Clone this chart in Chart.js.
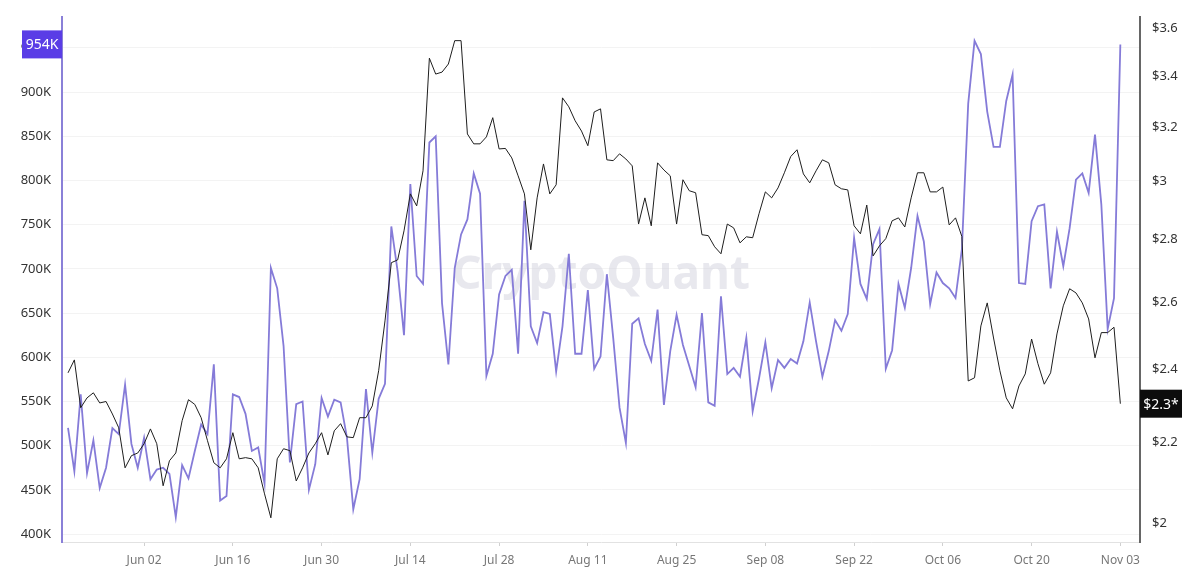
<!DOCTYPE html>
<html>
<head>
<meta charset="utf-8">
<script src="https://cdn.jsdelivr.net/npm/chart.js@4.4.1/dist/chart.umd.min.js"></script>
<style>
html,body{margin:0;padding:0;background:#fff;}
#wrap{width:1200px;height:572px;}
</style>
</head>
<body>
<div id="wrap"><canvas id="c" width="1200" height="572"></canvas></div>
<script>
// ---- data ----
const startDate = '2025-05-21';
const tickLabels = ['Jun 02','Jun 16','Jun 30','Jul 14','Jul 28','Aug 11','Aug 25','Sep 08','Sep 22','Oct 06','Oct 20','Nov 03'];
const leftTicks = [400,450,500,550,600,650,700,750,800,850,900,950];
const rightTicks = [2,2.2,2.4,2.6,2.8,3,3.2,3.4,3.6];

// daily volume (thousands)
const volume = [
520,471,558,469,506,452,475,520,513,569,502,475,509,462,473,475,468,419,478,463,494,524,513,592,438,443,558,555,536,
494,498,457,701,678,613,481,547,550,450,479,554,533,552,549,509,428,462,564,492,553,570,748,697,625,796,692,683,
843,850,661,592,701,739,756,808,785,579,604,671,692,699,604,777,635,616,651,649,584,635,717,604,604,676,587,601,694,
622,543,503,638,644,615,596,654,546,607,648,614,590,566,650,549,545,669,581,588,578,622,539,576,617,565,597,588,598,
593,618,662,618,578,607,642,630,649,735,683,666,728,745,587,608,683,656,701,760,731,660,696,684,678,667,722,
887,958,943,878,838,838,890,920,684,683,754,771,773,678,742,703,746,801,808,786,852,773,632,667,954
];
// daily price (USD)
const price = [
2.39,2.427,2.293,2.32,2.334,2.306,2.31,2.276,2.239,2.135,2.166,2.173,2.197,2.236,2.197,2.09,2.153,2.173,2.258,2.315,2.302,2.266,2.205,2.148,2.135,2.158,2.226,2.158,2.161,
2.158,2.135,2.07,2.012,2.158,2.184,2.179,2.102,2.135,2.173,2.197,2.226,2.168,2.231,2.25,2.215,2.213,2.266,2.266,2.298,2.396,2.542,2.724,2.733,2.829,2.956,2.914,3.038,
3.473,3.408,3.416,3.449,3.546,3.546,3.174,3.137,3.137,3.163,3.236,3.118,3.12,3.085,3.02,2.956,2.766,2.942,3.063,2.956,2.988,3.313,3.278,3.224,3.185,3.13,3.258,3.27,3.078,
3.075,3.1,3.081,3.056,2.852,2.942,2.846,3.067,3.041,3.02,2.852,3.006,2.967,2.96,2.816,2.813,2.776,2.753,2.852,2.839,2.789,2.809,2.806,2.887,2.963,2.942,2.977,3.031,3.09,
3.115,3.027,2.995,3.038,3.078,3.067,2.988,2.974,2.97,2.846,2.819,2.917,2.746,2.779,2.803,2.863,2.873,2.842,2.942,3.031,3.031,2.963,2.963,2.98,2.849,2.873,2.81,
2.367,2.376,2.527,2.597,2.491,2.396,2.32,2.29,2.353,2.387,2.488,2.416,2.358,2.39,2.503,2.588,2.641,2.628,2.597,2.548,2.433,2.507,2.507,2.523,2.304
];

// category labels (one per day)
const MONTHS = ['Jan','Feb','Mar','Apr','May','Jun','Jul','Aug','Sep','Oct','Nov','Dec'];
const dates = volume.map((_, i) => {
  const d = new Date(startDate + 'T00:00:00Z');
  d.setUTCDate(d.getUTCDate() + i);
  return MONTHS[d.getUTCMonth()] + ' ' + String(d.getUTCDate()).padStart(2,'0');
});
const tickIdx = tickLabels.map(l => dates.indexOf(l)).filter(i => i >= 0);

const volPts = volume.map((v, i) => ({x: i, y: v}));
const pricePts = price.map((v, i) => ({x: i, y: v}));

const FONT = '"Noto Sans", "Open Sans", sans-serif';

function noPad(s) { s.paddingTop = 0; s.paddingBottom = 0; s.paddingLeft = 0; s.paddingRight = 0; }

const overlay = {
  id: 'overlay',
  beforeDatasetsDraw(chart) {
    const ctx = chart.ctx;
    ctx.save();
    ctx.font = 'bold 46px ' + FONT;
    ctx.fillStyle = 'rgba(210,210,222,0.5)';
    ctx.textAlign = 'center';
    ctx.textBaseline = 'alphabetic';
    ctx.fillText('CryptoQuant', 601, 289);
    ctx.restore();
  },
  afterDraw(chart) {
    const ctx = chart.ctx;
    const yL = chart.scales.y, yR = chart.scales.y1;
    ctx.save();
    ctx.font = '14px ' + FONT;
    ctx.textAlign = 'center';
    ctx.textBaseline = 'middle';
    // last volume label
    const lv = volume[volume.length - 1];
    const py = yL.getPixelForValue(lv);
    ctx.fillStyle = '#5a3de6';
    ctx.fillRect(22, py - 14, 40, 28);
    ctx.fillStyle = '#fff';
    ctx.fillText(lv + 'K', 42, py + 1);
    // last price label
    const lp = price[price.length - 1];
    const pp = yR.getPixelForValue(lp);
    ctx.fillStyle = '#0d0d0d';
    ctx.fillRect(1140, pp - 14, 42, 28);
    ctx.fillStyle = '#fff';
    ctx.fillText('$' + lp.toFixed(1) + '*', 1161, pp + 1);
    ctx.restore();
  }
};

new Chart(document.getElementById('c'), {
  type: 'line',
  data: {
    datasets: [
      {
        label: 'Price',
        data: pricePts,
        yAxisID: 'y1',
        borderColor: '#1e1e1e',
        borderWidth: 1,
        pointRadius: 0,
        tension: 0,
        fill: false
      },
      {
        label: 'Volume',
        data: volPts,
        yAxisID: 'y',
        borderColor: '#857bd8',
        borderWidth: 1.8,
        pointRadius: 0,
        tension: 0,
        fill: false
      }
    ]
  },
  options: {
    responsive: false,
    devicePixelRatio: 1,
    animation: false,
    layout: { padding: { top: 17, left: 0, right: 0, bottom: 0 } },
    plugins: { legend: { display: false }, tooltip: { enabled: false } },
    scales: {
      x: {
        type: 'linear',
        position: 'bottom',
        min: -0.95,
        max: 169.1,
        afterBuildTicks: s => { s.ticks = tickIdx.map(v => ({ value: v })); },
        afterFit: s => { s.height = 30; noPad(s); },
        ticks: {
          autoSkip: false,
          maxRotation: 0,
          color: '#777',
          font: { size: 12, family: FONT },
          padding: 7,
          callback: v => dates[v]
        },
        grid: { drawOnChartArea: false, drawTicks: true, tickLength: 4, color: '#d0d0d0' },
        border: { display: true, color: '#e2e2e2', width: 1 }
      },
      y: {
        type: 'linear',
        position: 'left',
        min: 391,
        max: 985,
        afterBuildTicks: s => { s.ticks = leftTicks.map(v => ({ value: v })); },
        afterFit: s => { s.width = 62; noPad(s); },
        ticks: {
          color: '#333',
          font: { size: 13, family: FONT },
          padding: 11,
          callback: v => v + 'K'
        },
        grid: { color: '#f3f3f3', drawTicks: false },
        border: { display: true, color: '#8a80d8', width: 2 }
      },
      y1: {
        type: 'logarithmic',
        position: 'right',
        min: 1.955,
        max: 3.647,
        afterBuildTicks: s => { s.ticks = rightTicks.map(v => ({ value: v })); },
        afterFit: s => { s.width = 60; noPad(s); },
        ticks: {
          color: '#333',
          font: { size: 13, family: FONT },
          padding: 12,
          callback: v => '$' + (+v.toFixed(1))
        },
        grid: { drawOnChartArea: false, drawTicks: false },
        border: { display: true, color: '#666', width: 2 }
      }
    }
  },
  plugins: [overlay]
});
</script>
</body>
</html>
